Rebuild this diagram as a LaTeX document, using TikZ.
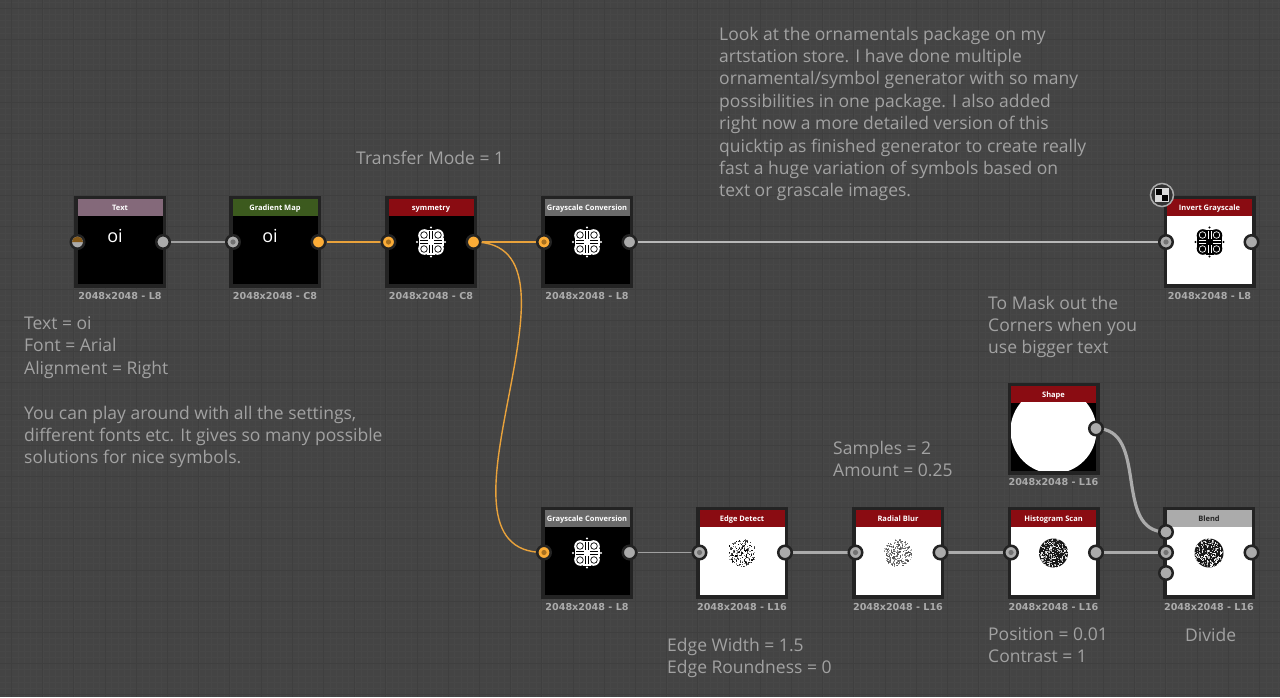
\documentclass[tikz,border=0pt]{standalone}
\usepackage{fontspec}
\usetikzlibrary{backgrounds}
\setmainfont{Open Sans}
\newfontfamily\capfont{DejaVu Sans}[BoldFont={DejaVu Sans Bold}]
\newfontfamily\ttlfont{Open Sans}
\definecolor{bgc}{HTML}{444444}
\definecolor{gminor}{HTML}{474747}
\definecolor{gmajor}{HTML}{3F3F3F}
\definecolor{framec}{HTML}{232323}
\definecolor{notec}{HTML}{A2A2A2}
\definecolor{capc}{HTML}{ABABAB}
\definecolor{wirec}{HTML}{A0A0A0}
\definecolor{orangec}{HTML}{E9A23B}
\definecolor{orangep}{HTML}{FBAC37}
\definecolor{orangedot}{HTML}{A8701F}
\definecolor{mauve}{HTML}{84697A}
\definecolor{greent}{HTML}{3C5A1E}
\definecolor{redt}{HTML}{8A0C12}
\definecolor{grayt}{HTML}{6A6A6A}
\definecolor{lightt}{HTML}{ABABAB}
\tikzset{
  framebox/.style={draw=none,fill=framec,minimum width=92pt,minimum height=92pt,inner sep=0pt,outer sep=0pt},
  bodybox/.style={draw=none,fill=#1,minimum width=85pt,minimum height=68pt,inner sep=0pt,outer sep=0pt},
  titlebox/.style={draw=none,fill=#1,minimum width=85pt,minimum height=17pt,inner sep=0pt,outer sep=0pt},
  titletext/.style={font=\ttlfont\fontsize{7.5}{9}\selectfont\bfseries},
  capnode/.style={font=\capfont\fontsize{9.6}{11}\selectfont\bfseries,text=capc,inner sep=0pt},
  note/.style={font=\fontsize{17.5}{22.4}\selectfont,text=notec,align=left,anchor=north west,inner sep=0pt},
  port/.style={circle,draw=framec,line width=2.5pt,fill=#1,minimum size=13.5pt,inner sep=0pt},
  wirethin/.style={draw=wirec,line width=1.2pt},
  wirethick/.style={draw=capc,line width=3.2pt,line cap=round},
  wireorange/.style={draw=orangec,line width=1.4pt},
}
% name, left, top, title, title colour, title text colour, body colour, caption
\newcommand{\sdbox}[8]{%
  \node[framebox] (#1) at (#2+46,#3+46) {};
  \node[titlebox=#5,anchor=north west,text=#6,titletext,text depth=0pt,text height=6pt] (#1T) at (#2+3.5,#3+3) {#4};
  \node[bodybox=#7,anchor=north] (#1B) at (#1T.south) {};
  \node[capnode,anchor=center] (#1C) at (#2+46,#3+99.7) {#8};
}
\newcommand{\sdport}[5]{% name, x, y, fill, dot colour
  \node[port=#4] (#1) at (#2,#3) {};
  \fill[#5] (#1.center) circle (2.6);
}
\newcommand{\sdportplain}[4]{\node[port=#4] (#1) at (#2,#3) {};}
\newcommand{\orn}[4]{% cx, cy, foreground, background
  \begin{scope}[shift={(#1,#2)}]
    \fill[#3] (-12.5,-4) rectangle (12.5,4);
    \fill[#3] (-4,-12.5) rectangle (4,12.5);
    \foreach \sx in {-1,1}\foreach \sy in {-1,1}{
      \fill[#3] (\sx*6.6,\sy*6.6) circle (6.2);
      \fill[#3] (0,0) rectangle (\sx*8,\sy*8);
      \draw[#4,line width=0.7pt] (\sx*7,\sy*7) circle (3.3);
      \draw[#4,line width=0.6pt] (\sx*1.7,\sy*3.2) -- (\sx*1.7,\sy*11);
      \draw[#4,line width=0.6pt] (\sx*3.2,\sy*1.7) -- (\sx*11,\sy*1.7);
    }
    \fill[#3] (-14,0) circle (1.2) (14,0) circle (1.2) (0,-14.5) circle (1.2) (0,14.5) circle (1.2);
  \end{scope}
}
\newcommand{\noisedisc}[6]{% cx, cy, radius, count, dot colour, disc colour
  \begin{scope}[shift={(#1,#2)}]
    \fill[#6] (0,0) circle (#3);
    \foreach \i in {1,...,#4}{
      \pgfmathsetmacro{\rr}{#3*sqrt(rnd)}
      \pgfmathsetmacro{\aa}{360*rnd}
      \pgfmathsetmacro{\oo}{0.35+0.65*rnd}
      \fill[#5,opacity=\oo] (\aa:\rr) ++(-0.6,-0.6) rectangle ++(1.2,1.2);
    }
  \end{scope}
}
\begin{document}
\begin{tikzpicture}[x=1pt,y=-1pt]
\pgfmathsetseed{7}
\useasboundingbox (0,0) rectangle (1280,697);

% ---------- nodes
\sdbox{text}{74}{196}{Text}{mauve}{white}{black}{2048x2048 - L8}
\sdbox{grad}{229}{196}{Gradient Map}{greent}{white}{black}{2048x2048 - C8}
\sdbox{sym}{385}{196}{symmetry}{redt}{white}{black}{2048x2048 - C8}
\sdbox{gray}{541}{196}{Grayscale Conversion}{grayt}{white}{black}{2048x2048 - L8}
\sdbox{inv}{1163.5}{196}{Invert Grayscale}{redt}{white}{white}{2048x2048 - L8}
\sdbox{grayb}{541}{507}{Grayscale Conversion}{grayt}{white}{black}{2048x2048 - L8}
\sdbox{edge}{696}{507}{Edge Detect}{redt}{white}{white}{2048x2048 - L16}
\sdbox{blur}{852}{507}{Radial Blur}{redt}{white}{white}{2048x2048 - L16}
\sdbox{hist}{1007.5}{507}{Histogram Scan}{redt}{white}{white}{2048x2048 - L16}
\sdbox{blend}{1163}{507}{Blend}{lightt}{black!85}{white}{2048x2048 - L16}
\sdbox{shape}{1007.5}{382.5}{Shape}{redt}{white}{black}{2048x2048 - L16}

% ---------- thumbnails
\node[font=\fontsize{18}{20}\selectfont,text=white,inner sep=0pt] (oiA) at (115,236) {oi};
\node[font=\fontsize{18}{20}\selectfont,text=white,inner sep=0pt] (oiB) at (270,236) {oi};
\orn{431}{242}{white}{black}
\orn{587}{242}{white}{black}
\orn{1209.5}{242}{black}{white}
\orn{587}{553}{white}{black}
\noisedisc{742}{553}{14}{190}{black}{white}
\noisedisc{898}{553}{14}{260}{black!70}{white}
\noisedisc{1053.5}{553}{14.5}{210}{white}{black!90}
\noisedisc{1209}{553}{14.5}{230}{white}{black!90}
\begin{scope}
  \clip (1011,402.5) rectangle (1096,470.5);
  \fill[white] (1053.5,430.5) circle (43);
\end{scope}

% ---------- ports
\node[port=capc] (textIn) at (77.5,242) {};
\fill[orangedot!80!black] (textIn.center) ++(-5.5,0) arc[start angle=180,end angle=360,x radius=5.5pt,y radius=-5.5pt] -- cycle;
\sdportplain{textOut}{163}{242}{capc}
\sdport{gradIn}{233}{242}{capc}{black!55}
\sdportplain{gradOut}{318.5}{242}{orangep}
\sdport{symIn}{388.5}{242}{orangep}{orangedot}
\sdportplain{symOut}{473.5}{242}{orangep}
\sdport{grayIn}{544}{242}{orangep}{orangedot}
\sdportplain{grayOut}{629.5}{242}{capc}
\sdport{invIn}{1166}{242}{capc}{black!55}
\sdportplain{invOut}{1251.5}{242}{capc}
\sdport{graybIn}{544}{552.5}{orangep}{orangedot}
\sdportplain{graybOut}{629.5}{552.5}{capc}
\sdport{edgeIn}{699.5}{552.5}{capc}{black!55}
\sdportplain{edgeOut}{785}{552.5}{capc}
\sdport{blurIn}{855.5}{552.5}{capc}{black!55}
\sdportplain{blurOut}{940.5}{552.5}{capc}
\sdport{histIn}{1011}{552.5}{capc}{black!55}
\sdportplain{histOut}{1096}{552.5}{capc}
\sdportplain{shapeOut}{1096}{428.5}{capc}
\sdportplain{blendA}{1166}{532}{capc}
\sdport{blendB}{1166}{552.5}{capc}{black!55}
\sdportplain{blendC}{1166}{573}{capc}
\sdportplain{blendOut}{1251.5}{552.5}{capc}

% ---------- output-preview badge
\node[circle,draw=capc,line width=1.5pt,fill=black!80,minimum size=23pt,inner sep=0pt] (badge) at (1162,195) {};
\fill[white!85!black] (1155,188) rectangle (1169,202);
\fill[black] (1156,189) rectangle (1162,195);
\fill[black] (1162,195) rectangle (1168,201);

% ---------- notes
\node[note] (n1) at (719,26.5) {Look at the ornamentals package on my\\artstation store. I have done multiple\\ornamental/symbol generator with so many\\possibilities in one package. I also added\\right now a more detailed version of this\\quicktip as finished generator to create really\\fast a huge variation of symbols based on\\text or grascale images.};
\node[note] (n2) at (356,150.5) {Transfer Mode = 1};
\node[note] (n3) at (24,316.5) {Text = oi\\Font = Arial\\Alignment = Right\\[22.4pt]You can play around with all the settings,\\different fonts etc. It gives so many possible\\solutions for nice symbols.};
\node[note] (n4) at (988,295.5) {To Mask out the\\Corners when you\\use bigger text};
\node[note] (n5) at (833,440.5) {Samples = 2\\Amount = 0.25};
\node[note] (n6) at (667,637.5) {Edge Width = 1.5\\Edge Roundness = 0};
\node[note] (n7) at (988,627.5) {Position = 0.01\\Contrast = 1};
\node[note] (n8) at (1185,627.5) {Divide};

% ---------- background grid and connectors
\begin{scope}[on background layer]
  \fill[bgc] (0,0) rectangle (1280,697);
  \foreach \k in {0,...,205}{
    \draw[gminor,line width=0.6pt] (5.5+\k*6.24,0) -- (5.5+\k*6.24,697);
  }
  \foreach \k in {0,...,112}{
    \draw[gminor,line width=0.6pt] (0,2+\k*6.24) -- (1280,2+\k*6.24);
  }
  \foreach \k in {0,...,41}{
    \draw[gmajor,line width=1pt] (11.5+\k*31.2,0) -- (11.5+\k*31.2,697);
  }
  \foreach \k in {0,...,22}{
    \draw[gmajor,line width=1pt] (0,8.5+\k*31.2) -- (1280,8.5+\k*31.2);
  }
\end{scope}
\begin{scope}[on background layer]
  \draw[wirethin] (textOut) -- (gradIn);
  \draw[wireorange] (gradOut) -- (symIn);
  \draw[wireorange] (symOut) -- (grayIn);
  \draw[wirethin,draw=white!72!black] (grayOut) -- (invIn);
  \draw[wireorange] (symOut.center) .. controls (603,242) and (414,552.5) .. (graybIn.center);
  \draw[wirethin] (graybOut) -- (edgeIn);
  \draw[wirethick] (edgeOut) -- (blurIn);
  \draw[wirethick] (blurOut) -- (histIn);
  \draw[wirethick] (histOut) -- (blendB);
  \draw[wirethick] (shapeOut.center) .. controls (1150,428.5) and (1112,532) .. (blendA.center);
\end{scope}
\end{tikzpicture}
\end{document}
